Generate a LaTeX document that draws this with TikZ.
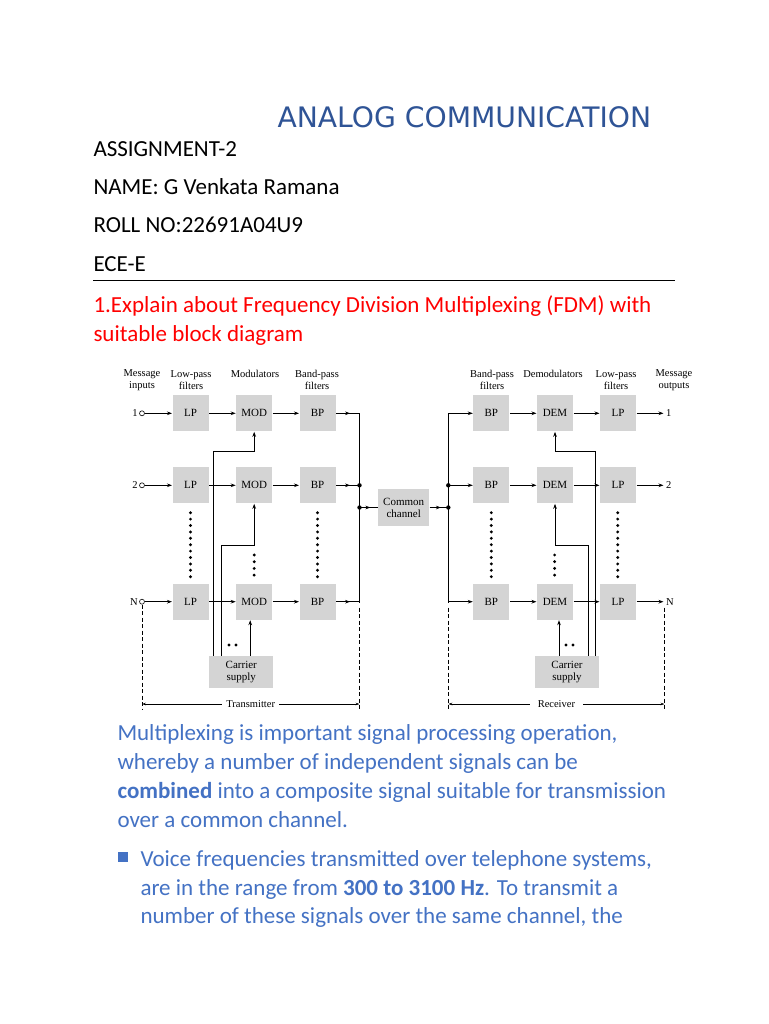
\documentclass[tikz,border=0pt]{standalone}
\usepackage{fontspec}
\setmainfont{Carlito}
\newfontfamily\titlefont{DejaVu Sans}
\newfontfamily\figfont{Liberation Serif}
\usetikzlibrary{arrows.meta, decorations.markings}

\definecolor{titleblue}{RGB}{47,84,150}
\definecolor{textblue}{RGB}{68,114,196}
\definecolor{boxgray}{RGB}{212,212,212}

\tikzset{
  blk/.style={fill=boxgray, minimum width=36pt, minimum height=36pt, inner sep=0pt, align=center,
              font=\figfont\fontsize{11}{12}\selectfont},
  hdr/.style={align=center, inner sep=1pt, font=\figfont\fontsize{10.5}{12}\selectfont},
  sig/.style={-{Stealth[length=5pt,width=3.6pt]}},
  midarr/.style={postaction={decorate}, decoration={markings,
                 mark=at position #1 with {\arrow{Stealth[length=5pt,width=3.6pt]}}}},
  bus/.style={line width=1.6pt, line cap=rect},
  body/.style={anchor=base west, inner sep=0pt, font=\fontsize{23}{27}\selectfont},
  dimline/.style={line width=0.6pt, dash pattern=on 4pt off 2.5pt},
}

\begin{document}
\begin{tikzpicture}[x=1pt, y=1pt, line width=1pt]

    \useasboundingbox[fill=white] (0,0) rectangle (768,-1024);

    % ==========================================
    % Heading
    % ==========================================
    \node[body, font=\titlefont\fontsize{28.2}{33}\selectfont, text=titleblue] (title) at (277,-128) {ANALOG COMMUNICATION};
    \node[body] (assign) at (93,-157) {ASSIGNMENT-2};
    \node[body] (name) at (93,-195) {NAME: G Venkata Ramana};
    \node[body] (roll) at (93,-233) {ROLL NO:22691A04U9};
    \node[body] (sec) at (93,-271) {ECE-E};
    \draw[line width=0.9pt] (93,-280) -- (675,-280);

    \node[body, text=red] (qa) at (93,-312) {1.Explain about Frequency Division Multiplexing (FDM) with};
    \node[body, text=red] (qb) at (93,-341) {suitable block diagram};

    % ==========================================
    % Column headings
    % ==========================================
    \node[hdr] (hmin) at (142,-380) {Message\\inputs};
    \node[hdr] (hlpt) at (191,-380) {Low-pass\\filters};
    \node[hdr] (hmod) at (255,-374) {Modulators};
    \node[hdr] (hbpt) at (317,-380) {Band-pass\\filters};
    \node[hdr] (hbpr) at (492,-380) {Band-pass\\filters};
    \node[hdr] (hdem) at (553,-374) {Demodulators};
    \node[hdr] (hlpr) at (616,-380) {Low-pass\\filters};
    \node[hdr] (hmout) at (674,-380) {Message\\outputs};

    % ==========================================
    % Channels 1, 2, N
    % ==========================================
    \foreach \r/\y in {1/-413.3, 2/-485.3, N/-601.7} {
        \node[circle, draw, line width=0.6pt, fill=white, inner sep=0pt, minimum size=5pt] (in\r) at (142,\y) {};
        \node[hdr, anchor=east] (lab\r) at (in\r.west) {\r};
        \node[blk] (tlp\r) at (190.5,\y) {LP};
        \node[blk] (tmod\r) at (254.2,\y) {MOD};
        \node[blk] (tbp\r) at (317.5,\y) {BP};
        \coordinate (tb\r) at (359.5,\y);

        \coordinate (rb\r) at (448.3,\y);
        \node[blk] (rbp\r) at (491.3,\y) {BP};
        \node[blk] (rdem\r) at (555,\y) {DEM};
        \node[blk] (rlp\r) at (618,\y) {LP};
        \node[hdr, anchor=west] (out\r) at (664.5,\y) {\r};

        \draw[sig] (in\r) -- (tlp\r);
        \draw[sig] (tlp\r) -- (tmod\r);
        \draw[sig] (tmod\r) -- (tbp\r);
        \draw[midarr=0.6] (tbp\r) -- (tb\r);
        \draw[sig] (rb\r) -- (rbp\r);
        \draw[sig] (rbp\r) -- (rdem\r);
        \draw[sig] (rdem\r) -- (rlp\r);
        \draw[sig, shorten >=1pt] (rlp\r) -- (out\r);
    }

    % ==========================================
    % Common channel and buses
    % ==========================================
    \node[blk, minimum width=51pt, minimum height=37pt] (chan) at (403.7,-507.5) {Common\\channel};
    \coordinate (tbm) at (359.5,-507.5);
    \coordinate (rbm) at (448.3,-507.5);

    \draw[bus] (tb1) -- (tbN);
    \draw[bus] (rb1) -- (rbN);
    \draw[midarr=0.6] (tbm) -- (chan);
    \draw[midarr=0.6] (chan) -- (rbm);
    \foreach \p in {tb2, tbm, rb2, rbm}
        \fill (\p) circle (2.2pt);

    % ==========================================
    % Carrier supplies
    % ==========================================
    \node[blk, minimum width=64pt, minimum height=32pt] (tcar) at (241.3,-672) {Carrier\\supply};
    \node[blk, minimum width=64pt, minimum height=32pt] (rcar) at (567,-672) {Carrier\\supply};

    \draw[sig] ([xshift=4.2pt]tcar.north west) |- ([yshift=-20pt]tmod1.south) -- (tmod1.south);
    \draw[sig] ([xshift=12.2pt]tcar.north west) |- ([yshift=-42pt]tmod2.south) -- (tmod2.south);
    \coordinate (tcin) at ([xshift=-4pt]tmodN.south);
    \draw[sig] (tcin |- tcar.north) -- (tcin);

    \draw[sig] ([xshift=-4pt]rcar.north east) |- ([yshift=-20pt]rdem1.south) -- (rdem1.south);
    \draw[sig] ([xshift=-11.3pt]rcar.north east) |- ([yshift=-42pt]rdem2.south) -- (rdem2.south);
    \coordinate (rcin) at ([xshift=4pt]rdemN.south);
    \draw[sig] (rcin |- rcar.north) -- (rcin);

    \foreach \x in {229, 236, 566, 573}
        \fill (\x,-645) circle (1.6pt);

    % vertical dots between rows
    \foreach \x in {190.5, 317.5, 491.3, 617.7}
        \foreach \k in {0,...,10}
            \fill (\x,{-512.7-6.4*\k}) circle (1.6pt);
    \foreach \x in {254.2, 554.6}
        \foreach \k in {0,...,3}
            \fill (\x,{-555-6.7*\k}) circle (1.6pt);

    % ==========================================
    % Transmitter / Receiver extents
    % ==========================================
    \coordinate (dimy) at (0,-710);
    \coordinate (dima) at (0,-704);
    \draw[dimline] (inN.south) -- (inN.south |- dimy);
    \draw[dimline] ([yshift=-6pt]tbN) -- (tbN |- dimy);
    \draw[dimline] ([yshift=-6pt]rbN) -- (rbN |- dimy);
    \draw[dimline] ([yshift=-6pt]outN.west) -- (outN.west |- dimy);
    \draw[{Stealth[length=4pt,width=2.6pt]}-{Stealth[length=4pt,width=2.6pt]}, line width=0.6pt]
        (inN |- dima) -- (tbN |- dima) node[midway, hdr, fill=white, inner xsep=4pt] (txlab) {Transmitter};
    \draw[{Stealth[length=4pt,width=2.6pt]}-{Stealth[length=4pt,width=2.6pt]}, line width=0.6pt]
        (rbN |- dima) -- (outN.west |- dima) node[midway, hdr, fill=white, inner xsep=8pt] (rxlab) {Receiver};

    % ==========================================
    % Text below the figure
    % ==========================================
    \begin{scope}[every node/.style={body, text=textblue}]
        \node (pa) at (117,-740) {Multiplexing is important signal processing operation,};
        \node (pb) at (117,-769) {whereby a number of independent signals can be};
        \node (pc) at (117,-798) {\textbf{combined} into a composite signal suitable for transmission};
        \node (pd) at (117,-827) {over a common channel.};
        \node (ba) at (140,-866) {Voice frequencies transmitted over telephone systems,};
        \node (bb) at (140,-895) {are in the range from \textbf{300 to 3100 Hz}. To transmit a};
        \node (bc) at (140,-923) {number of these signals over the same channel, the};
    \end{scope}
    \fill[textblue] (118,-852) rectangle (128,-862);

\end{tikzpicture}
\end{document}
